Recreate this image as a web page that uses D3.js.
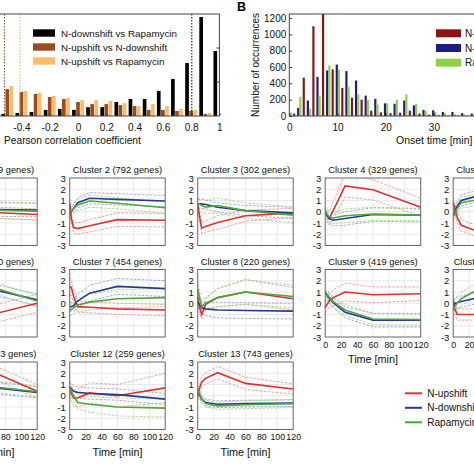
<!DOCTYPE html>
<html>
<head>
<meta charset="utf-8">
<script src="https://d3js.org/d3.v7.min.js"></script>
<style>
body { margin: 0; background: #fff; }
svg { display: block; font-family: "Liberation Sans", Arial, sans-serif; }
</style>
</head>
<body>
<svg id="fig" width="474" height="474"></svg>
<script>
// ---------- panel A : correlation histogram
var corrBins = [-0.5, -0.4, -0.3, -0.2, -0.1, 0, 0.1, 0.2, 0.3, 0.4, 0.5, 0.6, 0.7, 0.8, 0.9, 1.0];
var corrDownRapa = [0.06, 0.09, 0.12, 0.18, 0.21, 0.18, 0.26, 0.26, 0.41, 0.50, 0.50, 0.74, 1.09, 1.56, 2.91, 1.91];
var corrUpDown   = [0.79, 0.71, 0.65, 0.56, 0.50, 0.41, 0.35, 0.35, 0.32, 0.29, 0.18, 0.18, 0.15, 0.15, 0.06, 0];
var corrUpRapa   = [0.88, 0.74, 0.68, 0.59, 0.53, 0.47, 0.47, 0.44, 0.38, 0.29, 0.35, 0.29, 0.21, 0.18, 0.09, 0];
var corrNames = ["N-downshift vs Rapamycin", "N-upshift vs N-downshift", "N-upshift vs Rapamycin"];
var corrCuts = [0.805, -0.52, -0.41];
var corrTicks = [-0.4, -0.2, 0, 0.2, 0.4, 0.6, 0.8, 1];

// ---------- panel B : onset time histogram
var onsetBins = [-1, 1, 3, 5, 7, 9, 11, 13, 15, 17, 19, 21, 23, 25, 27, 29, 31, 33, 35, 37, 39];
var onsetUp   = [0, 30, 470, 1100, 1250, 570, 345, 224, 200, 65, 45, 35, 40, 65, 30, 15, 10, 5, 5, 3, 3];
var onsetDown = [0, 100, 190, 480, 557, 630, 550, 435, 250, 210, 155, 150, 190, 130, 75, 70, 50, 50, 35, 30, 25];
var onsetRapa = [40, 235, 90, 250, 618, 570, 358, 265, 195, 140, 155, 200, 265, 150, 60, 50, 35, 25, 20, 15, 10];
var onsetNames = ["N-upshift", "N-downshift", "Rapamycin"];
var onsetTicks = [0, 10, 20, 30];

// ---------- cluster profiles
var times = [0, 2, 5, 10, 25, 60, 120];
var clusterIds = [1, 2, 3, 4, 5, 6, 7, 8, 9, 10, 11, 12, 13];
var clusterGenes = [809, 792, 302, 329, 310, 260, 454, 220, 419, 281, 373, 259, 743];
var seriesNames = ["N-upshift", "N-downshift", "Rapamycin"];

var upMean = [
  [0.3, 0.2, 0.0, -0.1, -0.1, -0.05, -0.25],
  [0.8, -0.6, -1.4, -1.5, -1.25, -0.7, -0.75],
  [0.7, -0.3, -1.45, -1.3, -0.95, -0.35, -0.1],
  [0.0, -0.3, -0.6, 0.1, 2.3, 1.95, 0.4],
  [0.8, 0.3, -0.5, -1.2, -1.6, -1.4, -1.2],
  [-0.2, -0.3, -0.5, -0.7, -0.9, -1.05, 0.0],
  [1.5, 1.4, 0.6, -0.3, -0.35, -0.5, -0.6],
  [0.6, -0.3, -1.0, -0.1, 0.5, 1.0, 0.4],
  [-0.4, -0.15, 0.2, 0.5, 1.0, 0.75, 0.85],
  [0.3, -0.5, -1.0, -1.0, -1.0, -0.9, -0.8],
  [0.5, 0.6, 0.8, 1.1, 1.6, 2.25, 0.4],
  [0.5, 0.2, -0.2, -0.2, 0.25, 0.0, 0.7],
  [0.0, 0.6, 1.2, 1.55, 2.05, 1.1, 0.6]
];
var upSd = [
  [0.4, 0.4, 0.5, 0.5, 0.5, 0.5, 0.5],
  [0.3, 0.4, 0.5, 0.5, 0.55, 0.6, 0.6],
  [0.4, 0.4, 0.5, 0.5, 0.6, 0.5, 0.4],
  [0.5, 0.5, 0.6, 0.8, 1.0, 0.9, 0.8],
  [0.4, 0.4, 0.5, 0.5, 0.5, 0.5, 0.5],
  [0.6, 0.6, 0.7, 0.7, 0.8, 0.8, 0.8],
  [0.8, 0.7, 0.6, 0.5, 0.5, 0.5, 0.5],
  [0.6, 0.5, 0.4, 0.5, 0.8, 1.1, 1.0],
  [0.5, 0.5, 0.6, 0.7, 0.8, 0.7, 0.6],
  [0.5, 0.5, 0.5, 0.5, 0.5, 0.5, 0.5],
  [0.6, 0.6, 0.6, 0.6, 0.6, 0.6, 0.6],
  [0.6, 0.6, 0.7, 0.8, 0.9, 1.0, 1.3],
  [0.4, 0.4, 0.5, 0.5, 0.55, 0.55, 0.45]
];
var downMean = [
  [0.1, 0.1, 0.2, 0.2, 0.25, 0.2, 0.15],
  [-0.1, 0.0, 0.3, 0.8, 1.2, 1.1, 0.95],
  [0.7, 0.7, 0.7, 0.65, 0.4, 0.1, -0.1],
  [0.0, -0.3, -0.6, -0.75, -0.6, -0.25, -0.3],
  [-0.3, 0.0, 0.5, 1.0, 1.3, 1.2, 1.0],
  [0.3, 0.4, 0.6, 0.8, 1.0, 1.3, 0.3],
  [-0.3, -0.3, -0.2, 0.2, 0.9, 1.5, 1.3],
  [0.1, -0.1, -0.4, -0.5, -0.6, -0.65, -0.7],
  [0.9, 0.75, 0.45, 0.05, -0.8, -1.5, -1.5],
  [-0.2, 0.0, 0.05, 0.15, 0.4, 0.6, 0.5],
  [0.3, 0.3, 0.4, 0.5, 0.6, 0.75, 0.3],
  [0.8, 0.6, 0.4, 0.3, 0.2, 0.1, -0.3],
  [0.3, 0.1, -0.3, -0.6, -0.75, -0.7, -0.65]
];
var downSd = [
  [0.3, 0.3, 0.4, 0.4, 0.5, 0.6, 0.6],
  [0.3, 0.3, 0.4, 0.45, 0.5, 0.5, 0.5],
  [0.4, 0.4, 0.4, 0.4, 0.4, 0.45, 0.5],
  [0.3, 0.3, 0.4, 0.5, 0.6, 0.6, 0.6],
  [0.4, 0.4, 0.4, 0.5, 0.5, 0.5, 0.5],
  [0.5, 0.5, 0.5, 0.5, 0.5, 0.5, 0.5],
  [0.4, 0.4, 0.5, 0.6, 0.7, 0.7, 0.7],
  [0.4, 0.4, 0.5, 0.6, 0.7, 0.7, 0.7],
  [0.3, 0.3, 0.4, 0.4, 0.5, 0.6, 0.6],
  [0.5, 0.5, 0.5, 0.5, 0.5, 0.5, 0.5],
  [0.5, 0.5, 0.5, 0.5, 0.5, 0.5, 0.5],
  [0.5, 0.5, 0.5, 0.5, 0.5, 0.5, 0.5],
  [0.3, 0.3, 0.3, 0.3, 0.3, 0.3, 0.3]
];
var rapaMean = [
  [0.0, 0.1, 0.2, 0.2, 0.2, 0.15, 0.05],
  [0.0, 0.05, 0.3, 0.6, 0.95, 0.75, 0.35],
  [0.6, 0.7, 0.55, 0.4, 0.55, 0.1, -0.3],
  [0.1, -0.2, -0.45, -0.55, -0.35, -0.2, -0.3],
  [-0.4, -0.2, 0.3, 0.8, 1.0, 0.9, 0.8],
  [0.3, 0.5, 0.8, 1.0, 1.2, 1.5, 0.2],
  [-0.65, -0.55, -0.4, -0.15, 0.1, 0.4, 0.5],
  [1.3, 0.6, -0.3, 0.0, 0.5, 1.0, 0.6],
  [1.0, 0.85, 0.55, 0.15, -0.6, -1.4, -1.45],
  [-0.5, -0.3, 0.0, 0.4, 1.0, 1.0, 0.8],
  [0.4, 0.4, 0.5, 0.6, 0.7, 0.85, 0.35],
  [0.7, 0.4, 0.0, -0.6, -0.75, -1.0, -1.1],
  [0.4, 0.2, -0.3, -0.7, -0.9, -0.8, -0.7]
];
var rapaSd = [
  [0.5, 0.5, 0.6, 0.7, 0.75, 0.75, 0.75],
  [0.3, 0.3, 0.4, 0.5, 0.55, 0.5, 0.5],
  [0.5, 0.5, 0.6, 0.6, 0.65, 0.7, 0.7],
  [0.3, 0.3, 0.4, 0.5, 0.6, 0.6, 0.5],
  [0.4, 0.4, 0.4, 0.5, 0.5, 0.5, 0.5],
  [0.5, 0.5, 0.5, 0.5, 0.5, 0.5, 0.5],
  [0.5, 0.5, 0.5, 0.6, 0.7, 0.8, 0.8],
  [0.7, 0.6, 0.5, 0.5, 0.8, 1.1, 1.0],
  [0.3, 0.3, 0.4, 0.4, 0.5, 0.5, 0.5],
  [0.6, 0.6, 0.6, 0.6, 0.6, 0.6, 0.6],
  [0.5, 0.5, 0.5, 0.5, 0.5, 0.5, 0.5],
  [0.5, 0.5, 0.5, 0.6, 0.7, 0.8, 0.8],
  [0.3, 0.3, 0.3, 0.3, 0.3, 0.35, 0.35]
];

var svg = d3.select("#fig");
var frameColor = "#444";

function fmtDec(d) { return d === 0 ? "0" : (d === 1 ? "1" : d.toFixed(1)); }

// ================= A =================
var xA = d3.scaleLinear().domain([-1, 1]).range([-63.4, 219.4]);
var yA = d3.scaleLinear().domain([0, 3]).range([116, 14]);
var corrColors = ["#000000", "#9c4a1f", "#f7bd6a"];
var corrSeries = [corrDownRapa, corrUpDown, corrUpRapa];
var corrOff = [-0.029, 0, 0.029], corrW = 0.026;

corrSeries.forEach(function (vals, s) {
  svg.append("g").selectAll("rect")
    .data(vals)
    .enter().append("rect")
    .attr("x", function (d, i) { return xA(corrBins[i] + corrOff[s] - corrW / 2); })
    .attr("width", xA(corrW) - xA(0))
    .attr("y", function (d) { return yA(d); })
    .attr("height", function (d) { return yA(0) - yA(d); })
    .attr("fill", corrColors[s]);
});

// dotted thresholds
var cutColors = ["#000000", "#9c4a1f", "#f0a850"];
svg.append("g").selectAll("line")
  .data(corrCuts)
  .enter().append("line")
  .attr("x1", function (d) { return xA(d); })
  .attr("x2", function (d) { return xA(d); })
  .attr("y1", yA(3)).attr("y2", yA(0))
  .attr("stroke", function (d, i) { return cutColors[i]; })
  .attr("stroke-width", 1)
  .attr("stroke-dasharray", "1.5,1.5");

svg.append("rect")
  .attr("x", xA(-1)).attr("y", yA(3))
  .attr("width", xA(1) - xA(-1)).attr("height", yA(0) - yA(3))
  .attr("fill", "none").attr("stroke", frameColor);

var axA = svg.append("g")
  .attr("transform", "translate(0," + yA(0) + ")")
  .call(d3.axisBottom(xA).tickValues(corrTicks).tickSizeInner(-3).tickSizeOuter(0).tickPadding(8).tickFormat(fmtDec));
axA.select(".domain").remove();
axA.selectAll("line").attr("stroke", frameColor);
axA.selectAll("text").attr("font-size", "10px").attr("font-family", null).attr("fill", "#111");

svg.append("g").selectAll("line")
  .data([1, 2])
  .enter().append("line")
  .attr("x1", xA(1)).attr("x2", xA(1) - 3)
  .attr("y1", function (d) { return yA(d); })
  .attr("y2", function (d) { return yA(d); })
  .attr("stroke", frameColor);

svg.append("text").attr("x", 4).attr("y", 143.5)
  .attr("font-size", "10.2px").attr("fill", "#111")
  .text("Pearson correlation coefficient");

// legend A
var legA = svg.append("g");
corrNames.forEach(function (name, i) {
  var cy = 33 + i * 14;
  legA.append("rect").attr("x", 33).attr("y", cy - 3.7).attr("width", 22).attr("height", 7.4).attr("fill", corrColors[i]);
  legA.append("text").attr("x", 61).attr("y", cy + 3.5).attr("font-size", "9.8px").attr("fill", "#111").text(name);
});

// ================= B =================
var xB = d3.scaleLinear().domain([0, 40]).range([289.3, 482.1]);
var yB = d3.scaleLinear().domain([0, 1250]).range([116, 14]);
var onsetColors = ["#8e1414", "#1c1c84", "#8fd048"];
var onsetSeries = [onsetUp, onsetDown, onsetRapa];
var onsetOff = [0, 0.85, 1.3], onsetW = 0.45;

svg.append("clipPath").attr("id", "clipB")
  .append("rect").attr("x", xB(0)).attr("y", yB(1250)).attr("width", 200).attr("height", yB(0) - yB(1250));

onsetSeries.forEach(function (vals, s) {
  svg.append("g").attr("clip-path", "url(#clipB)").selectAll("rect")
    .data(vals)
    .enter().append("rect")
    .attr("x", function (d, i) { return xB(onsetBins[i] + onsetOff[s] - onsetW / 2); })
    .attr("width", xB(onsetW) - xB(0))
    .attr("y", function (d) { return yB(d); })
    .attr("height", function (d) { return yB(0) - yB(d); })
    .attr("fill", onsetColors[s]);
});

svg.append("rect")
  .attr("x", xB(0)).attr("y", yB(1250))
  .attr("width", xB(40) - xB(0)).attr("height", yB(0) - yB(1250))
  .attr("fill", "none").attr("stroke", frameColor);

var axBx = svg.append("g")
  .attr("transform", "translate(0," + yB(0) + ")")
  .call(d3.axisBottom(xB).tickValues(onsetTicks).tickSizeInner(-3).tickSizeOuter(0).tickPadding(8));
axBx.select(".domain").remove();
var axBy = svg.append("g")
  .attr("transform", "translate(" + xB(0) + ",0)")
  .call(d3.axisLeft(yB).tickValues([0, 200, 400, 600, 800, 1000, 1200]).tickSizeInner(-3).tickSizeOuter(0).tickPadding(3).tickFormat(d3.format("d")));
axBy.select(".domain").remove();
[axBx, axBy].forEach(function (g) {
  g.selectAll("line").attr("stroke", frameColor);
  g.selectAll("text").attr("font-size", "10px").attr("font-family", null).attr("fill", "#111");
});

svg.append("text").attr("transform", "translate(259,65) rotate(-90)")
  .attr("text-anchor", "middle").attr("font-size", "10px").attr("fill", "#111")
  .text("Number of occurrences");
svg.append("text").attr("x", 396).attr("y", 144)
  .attr("font-size", "10.5px").attr("fill", "#111")
  .text("Onset time [min]");
svg.append("text").attr("x", 237).attr("y", 10.5)
  .attr("font-size", "12.5px").attr("font-weight", "bold")
  .text("B");

var legB = svg.append("g");
onsetNames.forEach(function (name, i) {
  var cy = 33.3 + i * 14.7;
  legB.append("rect").attr("x", 436).attr("y", cy - 4).attr("width", 25).attr("height", 8).attr("fill", onsetColors[i]);
  legB.append("text").attr("x", 465).attr("y", cy + 3.6).attr("font-size", "10px").attr("fill", "#111").text(name);
});

// ================= clusters =================
var colLeft = [-58.3, 69.7, 197.7, 325.2, 453.2];
var rowTop = [178, 269.5, 362];
var plotW = 95.5, plotH = 67.5;
var lineColors = ["#dd3030", "#283a8c", "#4aa83c"];
var bandColors = ["#ee8a8a", "#8a96d0", "#9ccf80"];
var means = [upMean, downMean, rapaMean];
var sds = [upSd, downSd, rapaSd];

clusterIds.forEach(function (id, k) {
  var row = Math.floor(k / 5), col = k % 5;
  var left = colLeft[col], top = rowTop[row];
  var x = d3.scaleLinear().domain([0, 120]).range([left, left + plotW]);
  var y = d3.scaleLinear().domain([-3, 3]).range([top + plotH, top]);
  var g = svg.append("g");

  // grid
  g.append("g").selectAll("line")
    .data([20, 40, 60, 80, 100])
    .enter().append("line")
    .attr("x1", function (d) { return x(d); }).attr("x2", function (d) { return x(d); })
    .attr("y1", top).attr("y2", top + plotH)
    .attr("stroke", "#e3e3e3").attr("stroke-width", 0.8);
  g.append("g").selectAll("line")
    .data([-2, -1, 0, 1, 2])
    .enter().append("line")
    .attr("x1", left).attr("x2", left + plotW)
    .attr("y1", function (d) { return y(d); }).attr("y2", function (d) { return y(d); })
    .attr("stroke", "#e3e3e3").attr("stroke-width", 0.8);

  var clipId = "clip" + id;
  svg.append("clipPath").attr("id", clipId)
    .append("rect").attr("x", left).attr("y", top).attr("width", plotW).attr("height", plotH);
  var plot = g.append("g").attr("clip-path", "url(#" + clipId + ")");

  // dashed bands (mean +/- sd)
  [0, 1, 2].forEach(function (s) {
    var m = means[s][k], sd = sds[s][k];
    [-1, 1].forEach(function (sign) {
      var band = d3.line()
        .x(function (d, i) { return x(times[i]); })
        .y(function (d, i) { return y(m[i] + sign * sd[i]); });
      plot.append("path").attr("d", band(m))
        .attr("fill", "none").attr("stroke", bandColors[s])
        .attr("stroke-width", 0.8).attr("stroke-dasharray", "2.5,1.5");
    });
  });
  // mean profiles
  [0, 1, 2].forEach(function (s) {
    var line = d3.line()
      .x(function (d, i) { return x(times[i]); })
      .y(function (d) { return y(d); });
    plot.append("path").attr("d", line(means[s][k]))
      .attr("fill", "none").attr("stroke", lineColors[s]).attr("stroke-width", 1.6);
  });

  g.append("rect").attr("x", left).attr("y", top).attr("width", plotW).attr("height", plotH)
    .attr("fill", "none").attr("stroke", "#666").attr("stroke-width", 1);

  var ay = g.append("g").attr("transform", "translate(" + left + ",0)")
    .call(d3.axisLeft(y).tickValues([-3, -2, -1, 0, 1, 2, 3]).tickSize(0).tickPadding(4).tickFormat(d3.format("d")));
  ay.select(".domain").remove();
  ay.selectAll("text").attr("font-size", "9.5px").attr("font-family", null).attr("fill", "#111")
    .text(function (d) { return String(d); });

  g.append("text").attr("x", left + plotW / 2).attr("y", top - 5)
    .attr("text-anchor", "middle").attr("font-size", "9.3px").attr("fill", "#111")
    .text("Cluster " + id + " (" + clusterGenes[k] + " genes)");

  if (id >= 9) {
    var ax = g.append("g").attr("transform", "translate(0," + (top + plotH) + ")")
      .call(d3.axisBottom(x).tickValues([0, 20, 40, 60, 80, 100, 120]).tickSize(0).tickPadding(4.5));
    ax.select(".domain").remove();
    ax.selectAll("text").attr("font-size", "8.8px").attr("font-family", null).attr("fill", "#111");
    g.append("text").attr("x", left + plotW / 2).attr("y", top + plotH + 26)
      .attr("text-anchor", "middle").attr("font-size", "10.8px").attr("fill", "#111")
      .text("Time [min]");
  }
});

// cluster legend
var legC = svg.append("g");
seriesNames.forEach(function (name, i) {
  var cy = 393.3 + i * 14.5;
  legC.append("line").attr("x1", 405).attr("x2", 422).attr("y1", cy).attr("y2", cy)
    .attr("stroke", lineColors[i]).attr("stroke-width", 2);
  legC.append("text").attr("x", 427.3).attr("y", cy + 3.6).attr("font-size", "10px").attr("fill", "#111").text(name);
});
</script>
</body>
</html>
